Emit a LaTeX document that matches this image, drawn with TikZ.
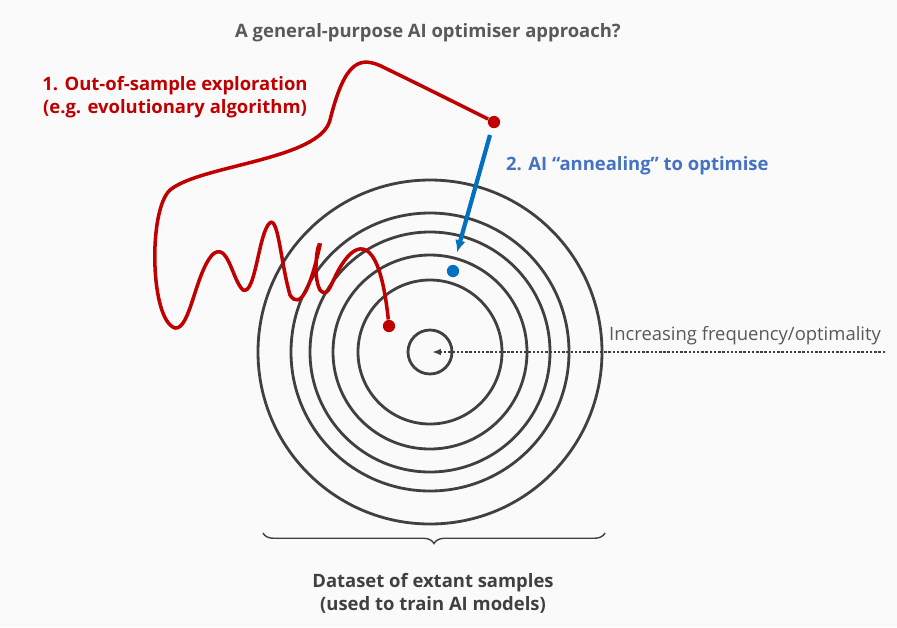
\documentclass[tikz,border=0pt]{standalone}
\usepackage{fontspec}
\setmainfont{Open Sans}
\usetikzlibrary{positioning, arrows.meta, decorations.pathreplacing}
\definecolor{ringgray}{HTML}{404040}
\definecolor{txtgray}{HTML}{595959}
\definecolor{redpath}{HTML}{C00000}
\definecolor{bluearr}{HTML}{0070C0}
\definecolor{bluetxt}{HTML}{4472C4}
\begin{document}
\begin{tikzpicture}[
	  x=0.02cm, y=-0.02cm,
	  font=\fontsize{10.5}{13}\selectfont\bfseries,
	  ring/.style={draw=ringgray, line width=1.6pt},
	  dot/.style={circle, inner sep=0pt, minimum size=7pt},
	  label/.style={align=center, text=txtgray},
	  arrow/.style={-{Latex[length=7pt,width=6pt]}, line width=2.4pt}
	]
	\fill[black!2] (0,0) rectangle (897,627);

	% --- Rings ---
	\foreach \r in {22,72,97,120,139,172}
	  \draw[ring] (430,352) circle[radius=\r];
	\coordinate (centre) at (432,352);
	\coordinate (rightend) at (885,352);
	\coordinate (bluestart) at (490,135);

	% --- Dots ---
	\node[dot, fill=redpath] (start) at (389,326) {};
	\node[dot, fill=redpath] (far) at (494,122) {};
	\node[dot, fill=bluearr] (best) at (453,271) {};

	% --- Texts ---
	\node[label] (title) at (428,33) {A general-purpose AI optimiser approach?};
	\node[label, text=redpath] (explore) at (175,97) {1. Out-of-sample exploration\\(e.g. evolutionary algorithm)};
	\node[label, text=bluetxt, anchor=west] (anneal) at (500,166) {2. AI “annealing” to optimise};
	\node[font=\fontsize{10.5}{13}\selectfont, text=txtgray, anchor=west, fill=black!2, inner sep=1pt] (incr) at (607,336) {Increasing frequency/optimality};
	\node[label, text=ringgray] (dataset) at (433,593) {Dataset of extant samples\\(used to train AI models)};

	% --- Flows ---
	\draw[redpath, line width=2pt] (start) .. controls (380,240) and (360,240) .. (345,260)
	  .. controls (330,280) and (330,300) .. (320,290)
	  .. controls (312,275) and (318,240) .. (320,245)
	  .. controls (310,290) and (300,310) .. (290,295)
	  .. controls (280,260) and (278,210) .. (268,225)
	  .. controls (258,240) and (255,295) .. (243,290)
	  .. controls (232,280) and (228,240) .. (212,255)
	  .. controls (195,275) and (190,330) .. (175,328)
	  .. controls (150,320) and (148,210) .. (170,190)
	  .. controls (200,165) and (320,160) .. (330,120)
	  .. controls (345,60) and (360,55) .. (385,68)
	  .. controls (420,85) and (460,105) .. (far);
	\draw[arrow, bluearr] (bluestart) -- ([shift={(4,-12)}]best.north);
	\draw[densely dotted, line width=1.4pt, ringgray, -{Latex[length=5pt]}] (rightend) -- (centre);
	\draw[decorate, decoration={brace, mirror, amplitude=6pt}, ringgray, thick] (263,533) -- (605,533);
\end{tikzpicture}
\end{document}
